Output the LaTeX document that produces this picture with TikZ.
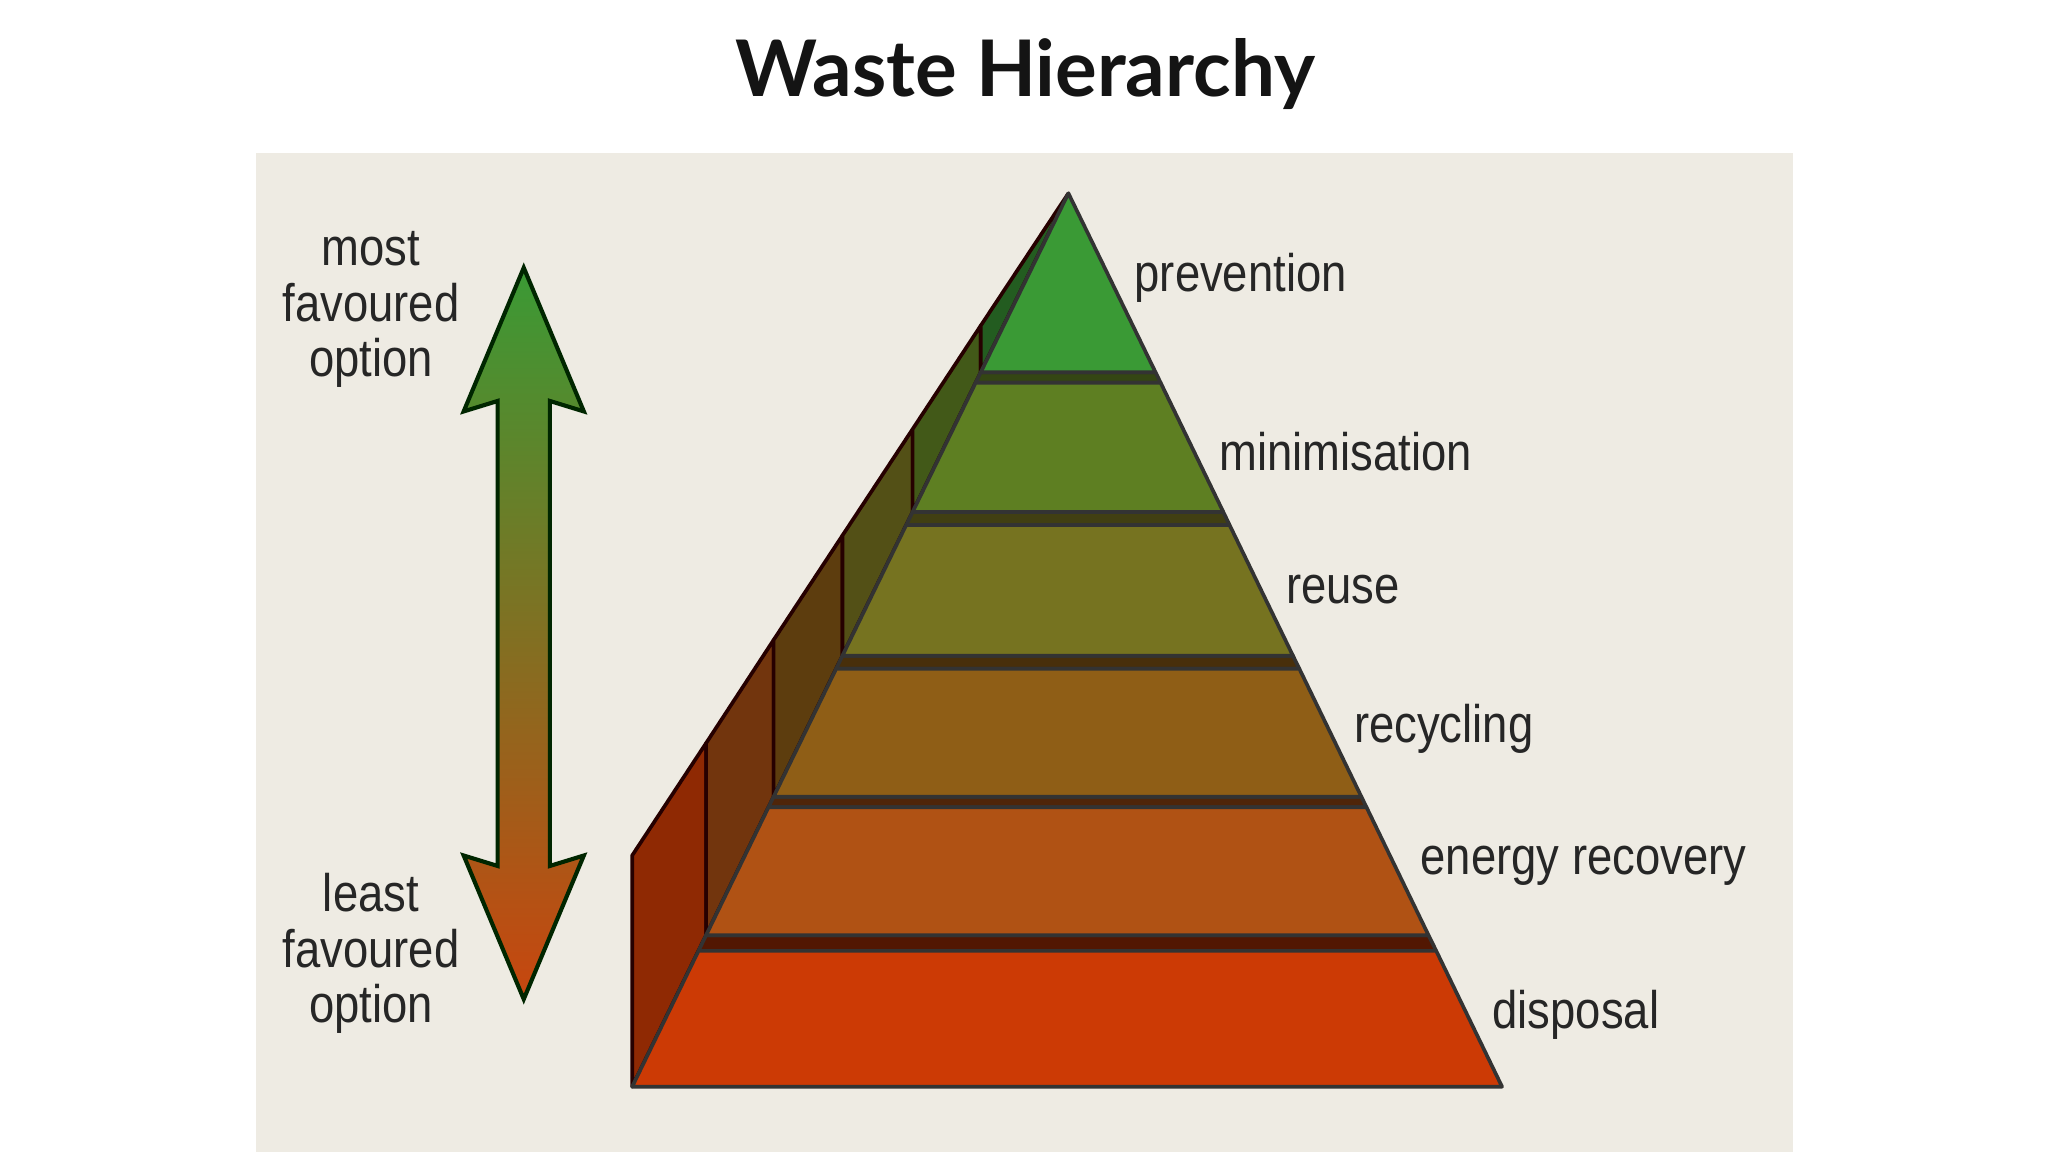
\documentclass[tikz,border=0pt]{standalone}
\usepackage{fontspec}
\setmainfont{Liberation Sans}
\newfontfamily\narrowfont[FakeStretch=0.86]{Liberation Sans}
\newfontfamily\titlefont{Lato Bold}
\begin{document}
\begin{tikzpicture}[x=0.01cm,y=-0.01cm,
  lbl/.style={font=\narrowfont\fontsize{11.5}{13}\selectfont, text=black!85, inner sep=0pt},
  side/.style={draw=black!75!red!60!black, line width=0.8pt, line join=round},
  face/.style={draw=black!80, line width=0.8pt, line join=round}]
\fill[white] (0,0) rectangle (1568,882);
\useasboundingbox (0,0) rectangle (1568,882);
\fill[fill={rgb,255:red,238;green,235;blue,227}] (196,117) rectangle (1373,882);
\node[font=\titlefont\fontsize{17}{20}\selectfont, text=black!92] (title) at (785,57) {Waste Hierarchy};
% colours
\definecolor{cP}{HTML}{3A9A35}
\definecolor{cM}{HTML}{5E7F22}
\definecolor{cU}{HTML}{767320}
\definecolor{cR}{HTML}{8F5E16}
\definecolor{cE}{HTML}{B05214}
\definecolor{cD}{HTML}{CC3A05}
% side faces
\filldraw[side, fill=cD!70!black] (484,832) -- (484,655) -- (540.6,569) -- (540.6,716) -- cycle;
\filldraw[side, fill=cE!65!black] (540.6,716) -- (540.6,569) -- (592.3,490) -- (592.3,610) -- cycle;
\filldraw[side, fill=cR!65!black] (592.3,610) -- (592.3,490) -- (645,410) -- (645,502) -- cycle;
\filldraw[side, fill=cU!70!black] (645,502) -- (645,410) -- (698.7,328.6) -- (698.7,392) -- cycle;
\filldraw[side, fill=cM!70!black] (698.7,392) -- (698.7,328.6) -- (750.9,249.3) -- (750.9,285) -- cycle;
\filldraw[side, fill=cP!60!black] (750.9,285) -- (750.9,249.3) -- (818,148) -- cycle;
% strips (top surfaces)
\filldraw[face, fill=cM!55!black] (750.9,285) -- (884.7,285) -- (888.6,293) -- (747,293) -- cycle;
\filldraw[face, fill=cU!55!black] (698.7,392) -- (936.6,392) -- (941.4,402) -- (693.8,402) -- cycle;
\filldraw[face, fill=cR!50!black] (645,502) -- (989.9,502) -- (994.8,512) -- (640.2,512) -- cycle;
\filldraw[face, fill=cE!45!black] (592.3,610) -- (1042.3,610) -- (1046.2,618) -- (588.4,618) -- cycle;
\filldraw[face, fill=cD!40!black] (540.6,716) -- (1093.7,716) -- (1099.6,728) -- (534.8,728) -- cycle;
% front faces
\filldraw[face, fill=cP] (818,148) -- (884.7,285) -- (750.9,285) -- cycle;
\filldraw[face, fill=cM] (747,293) -- (888.6,293) -- (936.6,392) -- (698.7,392) -- cycle;
\filldraw[face, fill=cU] (693.8,402) -- (941.4,402) -- (989.9,502) -- (645,502) -- cycle;
\filldraw[face, fill=cR] (640.2,512) -- (994.8,512) -- (1042.3,610) -- (592.3,610) -- cycle;
\filldraw[face, fill=cE] (588.4,618) -- (1046.2,618) -- (1093.7,716) -- (540.6,716) -- cycle;
\filldraw[face, fill=cD] (534.8,728) -- (1099.6,728) -- (1150,832) -- (484,832) -- cycle;
% labels
\node[lbl, anchor=west] (l1) at (868,213) {prevention};
\node[lbl, anchor=west] (l2) at (933,346) {minimisation};
\node[lbl, anchor=west] (l3) at (984,451) {reuse};
\node[lbl, anchor=west] (l4) at (1036,558) {recycling};
\node[lbl, anchor=west] (l5) at (1087,663) {energy recovery};
\node[lbl, anchor=west] (l6) at (1142,777) {disposal};
% arrow
\shade[top color=cP, bottom color={rgb,255:red,200;green,70;blue,15}, draw=black!85!green, line width=0.9pt, line join=miter]
  (401,205) -- (447,315) -- (421,307) -- (421,663) -- (447,655) -- (401,765) -- (355,655) -- (381,663) -- (381,307) -- (355,315) -- cycle;
\node[lbl, align=center, font=\narrowfont\fontsize{11.5}{12.1}\selectfont] (top) at (284,237) {most\\favoured\\option};
\node[lbl, align=center, font=\narrowfont\fontsize{11.5}{12.1}\selectfont] (bot) at (284,730) {least\\favoured\\option};
\end{tikzpicture}
\end{document}
